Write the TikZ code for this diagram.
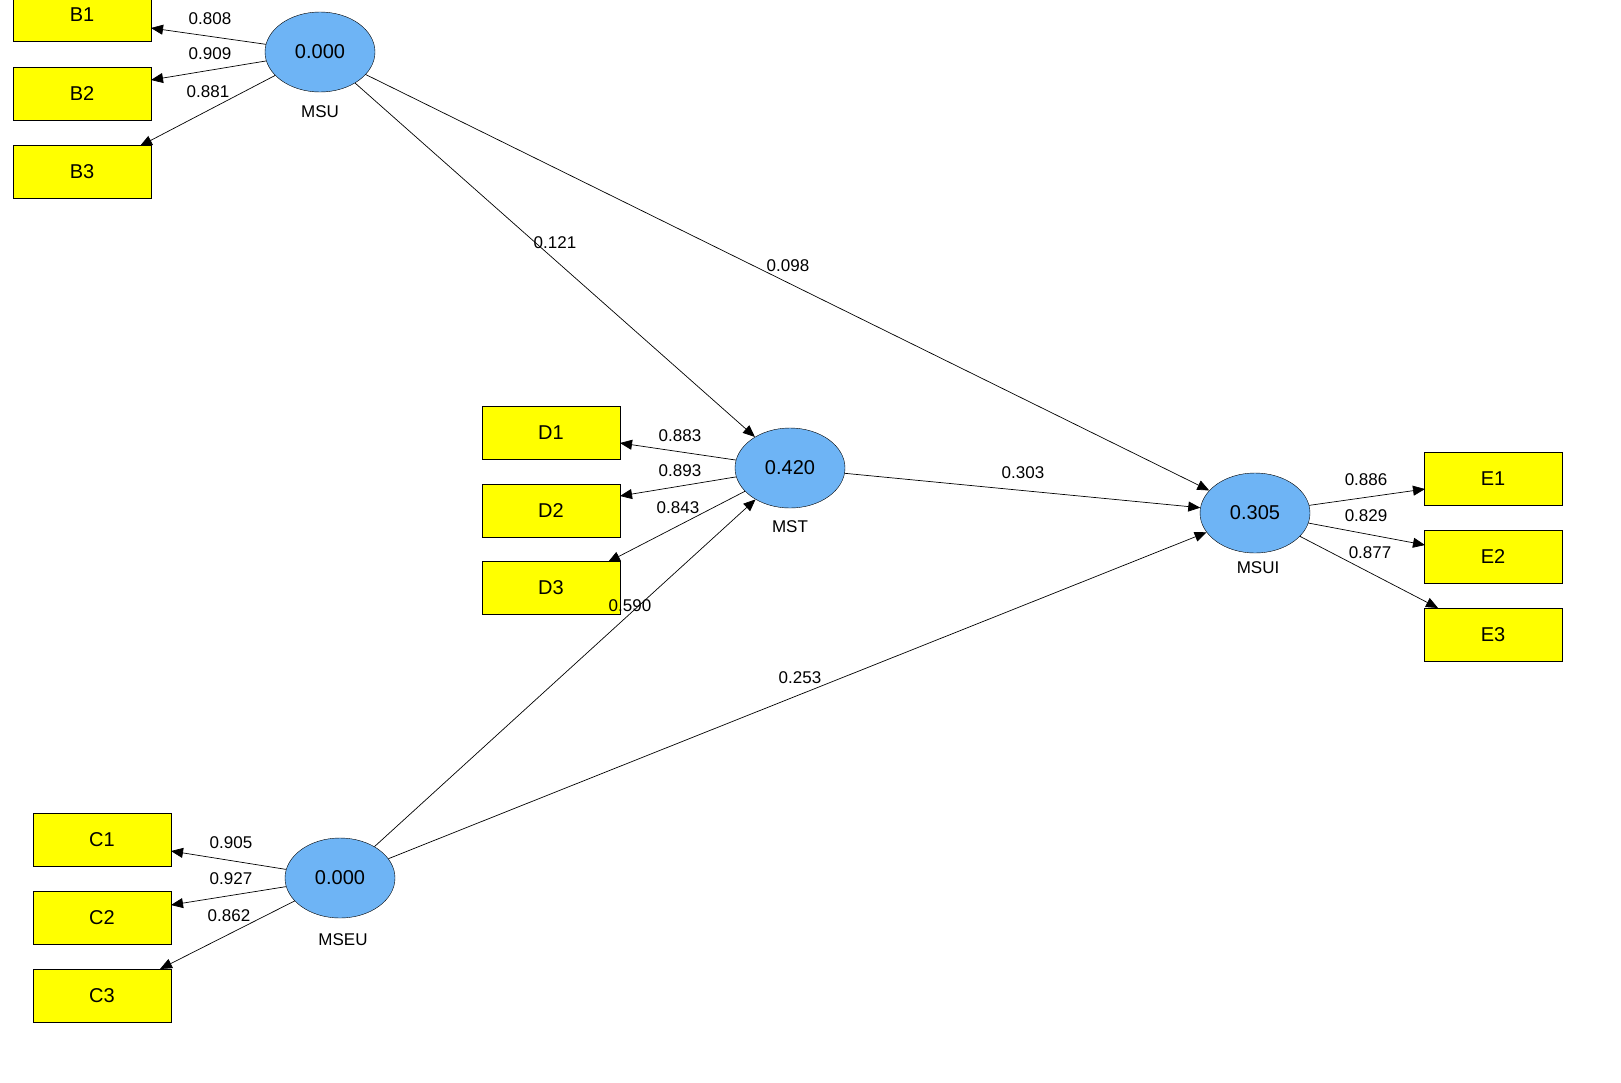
\documentclass[tikz,border=0pt]{standalone}
\usepackage{fontspec}
\setmainfont{Liberation Sans}
\usetikzlibrary{shapes.geometric,arrows.meta}
\definecolor{lv}{RGB}{110,180,245}
\definecolor{yb}{RGB}{255,255,0}
\begin{document}
\begin{tikzpicture}[x=1pt,y=-1pt,
 ind/.style={draw=black,fill=yb,minimum width=138pt,minimum height=53pt,inner sep=0pt,font=\fontsize{20}{22}\selectfont},
 lat/.style={ellipse,draw=black,fill=lv,minimum width=110pt,minimum height=80pt,inner sep=0pt,font=\fontsize{20}{22}\selectfont},
 nm/.style={font=\fontsize{17}{19}\selectfont},
 lb/.style={font=\fontsize{17}{19}\selectfont,inner sep=0pt},
 ar/.style={-{Triangle[length=12pt,width=10pt]},line width=0.7pt}]
\useasboundingbox (0,0) rectangle (1621,1082);
\node[ind] (B1) at (82,15) {B1};
\node[ind] (B2) at (82,94) {B2};
\node[ind] (B3) at (82,172) {B3};
\node[ind] (D1) at (551,433) {D1};
\node[ind] (D2) at (551,511) {D2};
\node[ind] (D3) at (551,588) {D3};
\node[ind] (E1) at (1493,479) {E1};
\node[ind] (E2) at (1493,557) {E2};
\node[ind] (E3) at (1493,635) {E3};
\node[ind] (C1) at (102,840) {C1};
\node[ind] (C2) at (102,918) {C2};
\node[ind] (C3) at (102,996) {C3};
\node[lat] (MSU) at (320,52) {0.000};
\node[lat] (MST) at (790,468) {0.420};
\node[lat] (MSUI) at (1255,513) {0.305};
\node[lat] (MSEU) at (340,878) {0.000};
\node[nm] at (320,112) {MSU};
\node[nm] at (790,527) {MST};
\node[nm] at (1258,568) {MSUI};
\node[nm] at (343,940) {MSEU};
\coordinate (b1) at (151,28); \coordinate (b2) at (151,80); \coordinate (b3) at (140,146);
\draw[ar] (MSU) -- (b1); \draw[ar] (MSU) -- (b2); \draw[ar] (MSU) -- (b3);
\coordinate (d1) at (620,443); \coordinate (d2) at (620,496); \coordinate (d3) at (608,562);
\draw[ar] (MST) -- (d1); \draw[ar] (MST) -- (d2); \draw[ar] (MST) -- (d3);
\coordinate (e1) at (1425,489); \coordinate (e2) at (1425,545); \coordinate (e3) at (1438,608);
\draw[ar] (MSUI) -- (e1); \draw[ar] (MSUI) -- (e2); \draw[ar] (MSUI) -- (e3);
\coordinate (c1) at (171,851); \coordinate (c2) at (171,905); \coordinate (c3) at (160,969);
\draw[ar] (MSEU) -- (c1); \draw[ar] (MSEU) -- (c2); \draw[ar] (MSEU) -- (c3);
\draw[ar] (MSU) -- (MST);
\draw[ar] (MSU) -- (MSUI);
\draw[ar] (MST) -- (MSUI);
\draw[ar] (MSEU) -- (MST);
\draw[ar] (MSEU) -- (MSUI);
\node[lb] at (210,19) {0.808};
\node[lb] at (210,54) {0.909};
\node[lb] at (208,92) {0.881};
\node[lb] at (555,243) {0.121};
\node[lb] at (788,266) {0.098};
\node[lb] at (680,436) {0.883};
\node[lb] at (680,471) {0.893};
\node[lb] at (678,508) {0.843};
\node[lb] at (1023,473) {0.303};
\node[lb] at (630,606) {0.590};
\node[lb] at (800,678) {0.253};
\node[lb] at (1366,480) {0.886};
\node[lb] at (1366,516) {0.829};
\node[lb] at (1370,553) {0.877};
\node[lb] at (231,843) {0.905};
\node[lb] at (231,879) {0.927};
\node[lb] at (229,916) {0.862};
\end{tikzpicture}
\end{document}
